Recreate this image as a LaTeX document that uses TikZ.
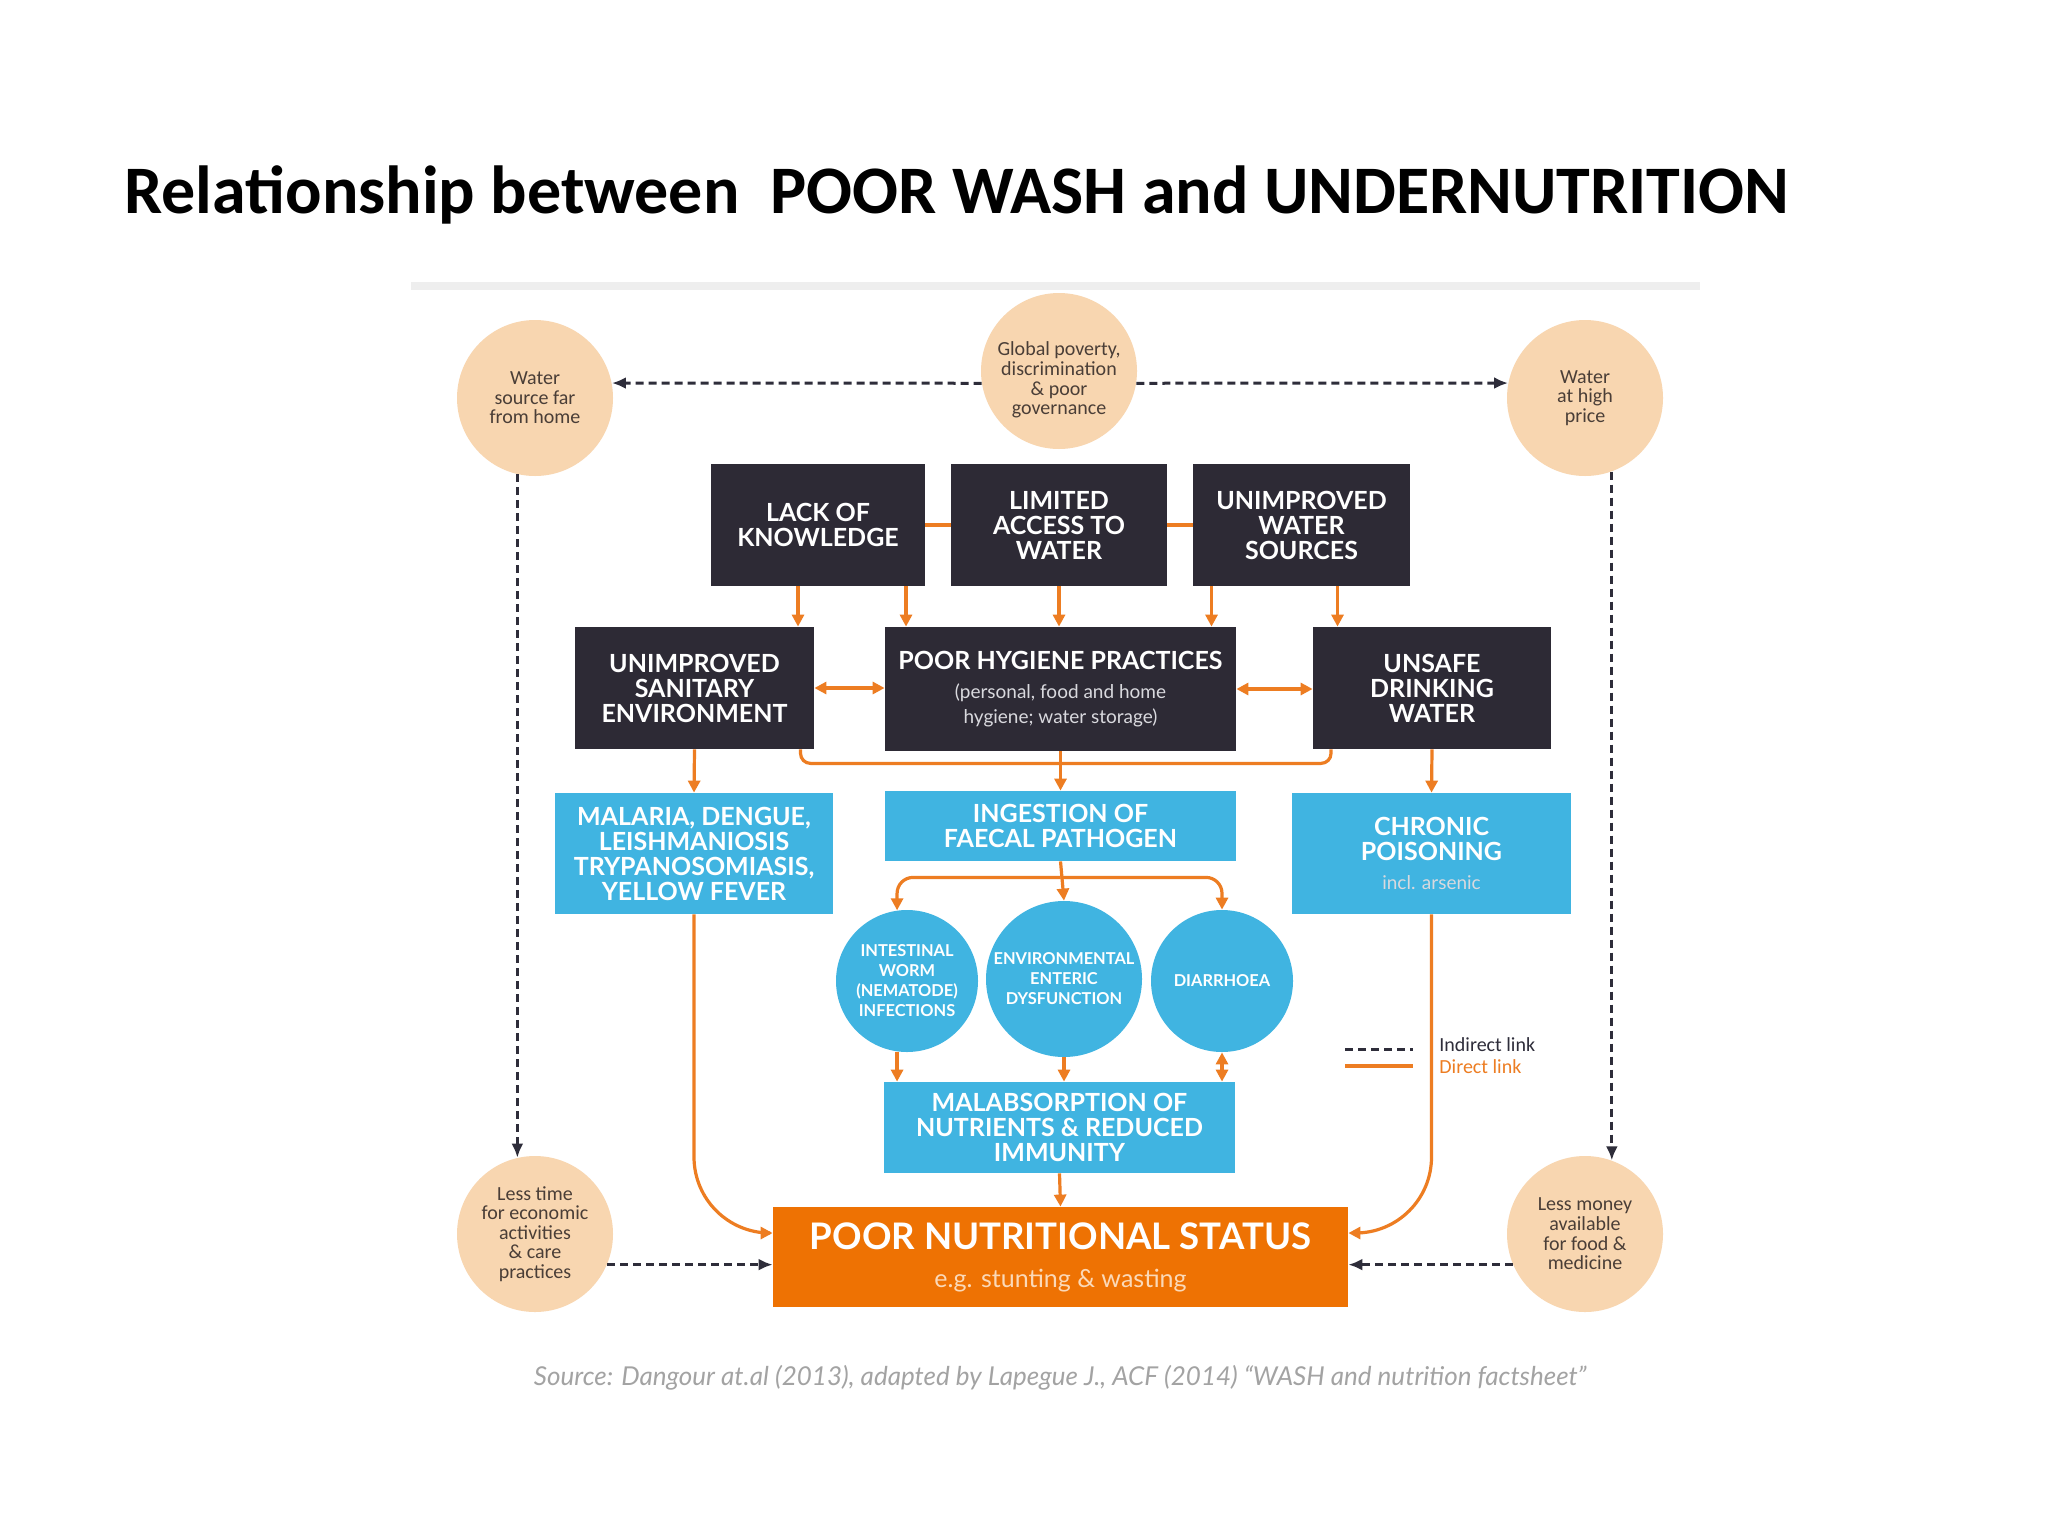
\documentclass[tikz,border=0pt]{standalone}
\usepackage{fontspec}
\setmainfont{Lato}
\newfontfamily\carl{Carlito}
\usetikzlibrary{arrows.meta}
\definecolor{peach}{HTML}{F8D6B0}
\definecolor{boxdark}{HTML}{2D2A35}
\definecolor{boxblue}{HTML}{40B4E1}
\definecolor{orangebox}{HTML}{EE7203}
\definecolor{oline}{HTML}{ED7D22}
\definecolor{dashc}{HTML}{2E2D3A}
\definecolor{ctext}{HTML}{4A3E37}
\definecolor{subgray}{HTML}{D9D9DE}
\definecolor{nutsubc}{HTML}{FBD9B8}
\definecolor{srcgray}{HTML}{A3A3A3}
\definecolor{bargray}{HTML}{EEEEEE}
\newcommand\ttlfont{\carl\bfseries\fontsize{34}{40}\selectfont}
\newcommand\bxfont{\fontsize{12.5}{12.5}\selectfont\bfseries}
\newcommand\subfnt{\fontsize{9.5}{12}\selectfont\mdseries\color{subgray}}
\newcommand\pchfont{\carl\fontsize{10}{9.8}\selectfont}
\newcommand\bcfont{\fontsize{8.2}{10}\selectfont\bfseries}
\newcommand\nutfont{\fontsize{18.3}{20}\selectfont\bfseries}
\newcommand\nutsub{\fontsize{12.5}{14}\selectfont\mdseries\color{nutsubc}}
\newcommand\legfont{\carl\fontsize{10}{11}\selectfont}
\newcommand\srcfont{\itshape\fontsize{13}{15}\selectfont}
\tikzset{
  darkbox/.style={fill=boxdark, text=white, font=\bxfont, align=center, inner sep=0pt},
  bluebox/.style={fill=boxblue, text=white, font=\bxfont, align=center, inner sep=0pt},
  bluecirc/.style={circle, fill=boxblue, text=white, font=\bcfont, align=center, inner sep=0pt},
  peachcirc/.style={circle, fill=peach, text=ctext, font=\pchfont, align=center, minimum size=78pt, inner sep=0pt},
  olink/.style={draw=oline, line width=1.6pt},
  oarrow/.style={olink, -{Triangle[length=6pt,width=6pt]}},
  oarrowtwo/.style={olink, {Triangle[length=6pt,width=6pt]}-{Triangle[length=6pt,width=6pt]}},
  dline/.style={draw=dashc, line width=1.5pt, dash pattern=on 4pt off 2.5pt},
  darrow/.style={dline, -{Latex[length=7pt,width=6pt]}},
}
\begin{document}
\begin{tikzpicture}[x=0.5pt,y=-0.5pt]
\fill[white] (0,0) rectangle (2048,1536);
\useasboundingbox (0,0) rectangle (2048,1536);
% title
\node[anchor=base west, font=\ttlfont, inner sep=0pt] (title) at (124,213) {Relationship between\ \ POOR WASH and UNDERNUTRITION};
% top bar
\fill[bargray] (411,282) rectangle (1700,290);
% peach circles
\node[peachcirc] (wfar) at (535,398) {Water\\source far\\from home};
\node[peachcirc] (glob) at (1059,371) {};
\node[font=\pchfont, text=ctext, align=center, inner sep=0pt] (globt) at (1059,380) {Global poverty,\\discrimination\\\& poor\\governance};
\node[peachcirc] (wprice) at (1585,398) {Water\\at high\\price};
\node[peachcirc] (ltime) at (535,1234) {Less time\\for economic\\activities\\\& care\\practices};
\node[peachcirc] (lmoney) at (1585,1234) {Less money\\available\\for food \&\\medicine};
% dark boxes
\node[darkbox, minimum width=107pt, minimum height=61pt] (lack) at (818,525) {LACK OF\\KNOWLEDGE};
\node[darkbox, minimum width=108pt, minimum height=61pt] (lim) at (1059,525) {LIMITED\\ACCESS TO\\WATER};
\node[darkbox, minimum width=108.5pt, minimum height=61pt] (uws) at (1301.5,525) {UNIMPROVED\\WATER\\SOURCES};
\node[darkbox, minimum width=119.5pt, minimum height=61pt] (san) at (694.5,688) {UNIMPROVED\\SANITARY\\ENVIRONMENT};
\node[darkbox, minimum width=175.5pt, minimum height=62pt] (hyg) at (1060.5,689) {POOR HYGIENE PRACTICES\\[2pt]\subfnt (personal, food and home\\\subfnt hygiene; water storage)};
\node[darkbox, minimum width=119pt, minimum height=61pt] (uns) at (1432,688) {UNSAFE\\DRINKING\\WATER};
% blue boxes
\node[bluebox, minimum width=139pt, minimum height=60.5pt] (mal) at (694,853.5) {MALARIA, DENGUE,\\LEISHMANIOSIS\\TRYPANOSOMIASIS,\\YELLOW FEVER};
\node[bluebox, minimum width=175.5pt, minimum height=35pt] (ing) at (1060.5,826) {INGESTION OF\\FAECAL PATHOGEN};
\node[bluebox, minimum width=139.5pt, minimum height=60.5pt] (chr) at (1431.5,853.5) {CHRONIC\\POISONING\\[2pt]\subfnt incl. arsenic};
\node[bluecirc, minimum size=71pt] (intes) at (907,981) {INTESTINAL\\WORM\\(NEMATODE)\\INFECTIONS};
\node[bluecirc, minimum size=78pt] (env) at (1064,979) {ENVIRONMENTAL\\ENTERIC\\DYSFUNCTION};
\node[bluecirc, minimum size=71pt] (diar) at (1222,981) {DIARRHOEA};
\node[bluebox, minimum width=175.5pt, minimum height=45.5pt] (mab) at (1059.5,1127.5) {MALABSORPTION OF\\NUTRIENTS \& REDUCED\\IMMUNITY};
\node[fill=orangebox, minimum width=287.5pt, minimum height=50pt, align=center, text=white, inner sep=0pt] (nut) at (1060.5,1257) {\nutfont POOR NUTRITIONAL STATUS\\[7pt]\nutsub e.g. stunting \& wasting};
% dashed arrows
\draw[darrow] (glob.189) -- (wfar.11);
\draw[darrow] (glob.-9) -- (wprice.169);
\draw[darrow] (wfar.-103) -- (ltime.103);
\draw[darrow] (wprice.-70) -- (lmoney.70);
\draw[darrow] (ltime.-23) -- (ltime.-23 -| nut.west);
\draw[darrow] (lmoney.203) -- (lmoney.203 -| nut.east);
% row 1 links
\draw[olink] (lack.east) -- (lim.west);
\draw[olink] (lim.east) -- (uws.west);
\coordinate (k1) at ([xshift=-10pt]lack.south);
\coordinate (k2) at ([xshift=44pt]lack.south);
\coordinate (u1) at ([xshift=-45pt]uws.south);
\coordinate (u2) at ([xshift=18pt]uws.south);
\draw[oarrow] (k1) -- (k1 |- san.north);
\draw[oarrow] (k2) -- (k2 |- hyg.north);
\draw[oarrow] (lim.south) -- (lim.south |- hyg.north);
\draw[oarrow] (u1) -- (u1 |- hyg.north);
\draw[oarrow] (u2) -- (u2 |- uns.north);
% row 2 links
\draw[oarrowtwo] (san.east) -- (san.east -| hyg.west);
\draw[oarrowtwo] (hyg.east) -- (hyg.east -| uns.west);
\coordinate (s1) at ([xshift=53pt]san.south);
\coordinate (s2) at ([xshift=-50.5pt]uns.south);
\draw[olink, rounded corners=5pt] (s1) -- ([yshift=-7pt]s1) -| (s2);
\draw[oarrow] (san.south) -- (mal.north);
\draw[oarrow] (uns.south) -- (chr.north);
\draw[oarrow] (hyg.south) -- (ing.north);
% ingestion branches
\coordinate (ib) at ([yshift=-8pt]ing.south);
\draw[oarrow, rounded corners=8pt] (ib) -| (intes.98);
\draw[oarrow, rounded corners=8pt] (ib) -| (diar.north);
\draw[oarrow] (ing.south) -- (env.north);
% circles to malabsorption
\draw[oarrow] (intes.-98) -- (intes.-98 |- mab.north);
\draw[oarrow] (env.south) -- (env.south |- mab.north);
\draw[oarrowtwo] (diar.south) -- (diar.south |- mab.north);
\draw[oarrow] (mab.south) -- (nut.north);
% long curves
\coordinate (nl) at ([yshift=12pt]nut.west);
\coordinate (nr) at ([yshift=12pt]nut.east);
\draw[oarrow, rounded corners=38pt] (mal.south) |- (nl);
\draw[oarrow, rounded corners=38pt] (chr.south) |- (nr);
% legend
\coordinate (l1) at (1345,1049);
\coordinate (l2) at (1413,1049);
\coordinate (l3) at (1345,1066);
\coordinate (l4) at (1413,1066);
\draw[dline] (l1) -- (l2);
\draw[olink] (l3) -- (l4);
\node[anchor=west, font=\legfont, text=dashc, inner sep=0pt] (li) at (1439,1045) {Indirect link};
\node[anchor=west, font=\legfont, text=oline, inner sep=0pt] (ld) at (1439,1067) {Direct link};
% source
\node[font=\srcfont, text=srcgray] (src) at (1060,1378) {Source: Dangour at.al (2013), adapted by Lapegue J., ACF (2014) “WASH and nutrition factsheet”};
\end{tikzpicture}
\end{document}
